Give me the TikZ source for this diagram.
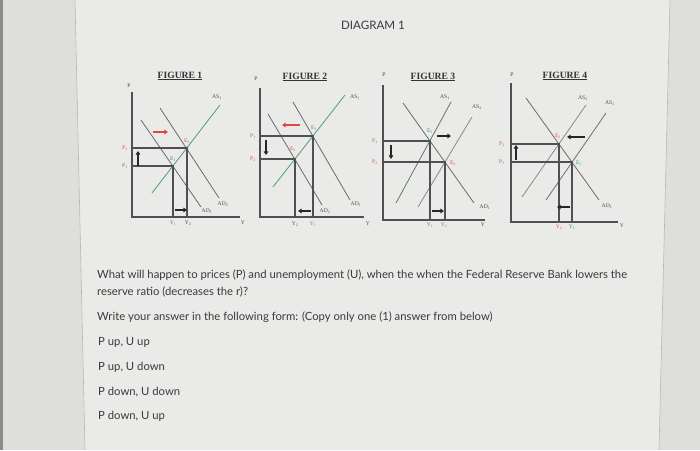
\documentclass[tikz,border=0pt]{standalone}
\usepackage{fontspec}
\setmainfont{Lato}
\newfontfamily\figfont{Liberation Serif}
\usetikzlibrary{arrows.meta}
\definecolor{bgout}{HTML}{DEDEDB}
\definecolor{bgpanel}{HTML}{EAEAE8}
\definecolor{edgec}{HTML}{B8B8B5}
\definecolor{txtc}{HTML}{3A3A3C}
\definecolor{axc}{HTML}{505052}
\definecolor{adc}{HTML}{6A6A6C}
\definecolor{asg}{HTML}{4F9C7C}
\definecolor{asgray}{HTML}{8A8C8A}
\definecolor{asdk}{HTML}{5E7A6C}
\definecolor{lred}{HTML}{D65A5A}
\definecolor{lgreen}{HTML}{3F9A6E}
\definecolor{arred}{HTML}{E04848}
\tikzset{
  axisline/.style={draw=axc, line width=1.2pt},
  guide/.style={draw=axc, line width=1.1pt},
  adline/.style={draw=adc, line width=0.8pt},
  asline/.style={draw=asg, line width=0.8pt},
  asline2/.style={draw=asgray, line width=0.8pt},
  asline3/.style={draw=asdk, line width=0.8pt},
  shiftarr/.style={draw=black!85, line width=1.3pt, -{Triangle[length=3.6pt,width=4.6pt]}},
  redarr/.style={draw=arred, line width=1.3pt, -{Triangle[length=3.6pt,width=4.6pt]}},
  lbl/.style={font=\figfont\fontsize{5.6}{6}\selectfont, text=black!70, inner sep=0pt},
  redlbl/.style={lbl, text=lred},
  grnlbl/.style={lbl, text=lgreen},
  figtitle/.style={font=\figfont\bfseries\fontsize{9.6}{10}\selectfont, text=black!80, inner sep=0.5pt},
  qtext/.style={font=\fontsize{11.3}{13}\selectfont, text=txtc, anchor=west, inner sep=0pt},
}
\begin{document}
\begin{tikzpicture}[x=1pt,y=-1pt]
\useasboundingbox (0,0) rectangle (700,450);
% background
\fill[bgout] (0,0) rectangle (700,450);
\fill[bgpanel] (75,0) -- (670,0) -- (659,450) -- (85,450) -- cycle;
\draw[edgec, line width=0.6pt] (75,0) -- (85,450);
\draw[edgec, line width=0.6pt] (670,0) -- (659,450);
\fill[black!45] (0,0) rectangle (2.5,450);

\node[font=\fontsize{11.6}{13}\selectfont, text=txtc] (dtitle) at (373,25) {DIAGRAM 1};

% ---------------- FIGURE 1 ----------------
\node[figtitle] (f1t) at (180,76) {\underline{FIGURE 1}};
\coordinate (f1o) at (132,217);
\coordinate (f1top) at (132,92);
\coordinate (f1right) at (240,217);
\draw[axisline] (f1top) -- (f1o) -- (f1right);
\node[lbl] (f1P) at (129,86) {P};
\node[lbl] (f1Y) at (243,223) {Y};
\coordinate (f1e1) at (173,166);
\coordinate (f1e2) at (187,148);
\draw[adline] (141,120) coordinate (f1ad1a) -- (201,207) coordinate (f1ad1b);
\draw[adline] (160,108) coordinate (f1ad2a) -- (219,198) coordinate (f1ad2b);
\draw[asline] (152,193) coordinate (f1asa) -- (220,105) coordinate (f1asb);
\draw[guide] (132,148) coordinate (f1p2) -- (f1e2) -- (187,217) coordinate (f1y2);
\draw[guide] (132,166) coordinate (f1p1) -- (f1e1) -- (173,217) coordinate (f1y1);
\node[lbl] (f1as1) at (217,97) {AS\textsubscript{1}};
\node[lbl] (f1adl1) at (207,211) {AD\textsubscript{1}};
\node[lbl] (f1adl2) at (223,204) {AD\textsubscript{2}};
\node[redlbl] (f1P2) at (125,148) {P\textsubscript{2}};
\node[grnlbl] (f1P1) at (125,166) {P\textsubscript{1}};
\node[grnlbl] (f1Y1) at (173,223) {Y\textsubscript{1}};
\node[lbl] (f1Y2) at (188,223) {Y\textsubscript{2}};
\node[redlbl] (f1E2) at (187,141) {E\textsubscript{2}};
\node[grnlbl] (f1E1) at (173,159) {E\textsubscript{1}};
\coordinate (f1ua) at (138,166); \coordinate (f1ub) at (138,151);
\draw[shiftarr] (f1ua) -- (f1ub);
\coordinate (f1ra) at (175,210); \coordinate (f1rb) at (187,210);
\draw[shiftarr] (f1ra) -- (f1rb);
\coordinate (f1qa) at (153,132); \coordinate (f1qb) at (168,132);
\draw[redarr] (f1qa) -- (f1qb);

% ---------------- FIGURE 2 ----------------
\node[figtitle] (f2t) at (305,77) {\underline{FIGURE 2}};
\coordinate (f2o) at (260,217);
\coordinate (f2top) at (260,88);
\coordinate (f2right) at (364,217);
\draw[axisline] (f2top) -- (f2o) -- (f2right);
\node[lbl] (f2P) at (256,79) {P};
\node[lbl] (f2Y) at (368,224) {Y};
\coordinate (f2e1) at (313,136);
\coordinate (f2e2) at (295,159);
\draw[adline] (293,102) coordinate (f2ad1a) -- (350,200) coordinate (f2ad1b);
\draw[adline] (268,114) coordinate (f2ad2a) -- (322,205) coordinate (f2ad2b);
\draw[asline] (273,187) coordinate (f2asa) -- (345,95) coordinate (f2asb);
\draw[guide] (260,136) coordinate (f2p1) -- (f2e1) -- (313,217) coordinate (f2y1);
\draw[guide] (260,159) coordinate (f2p2) -- (f2e2) -- (295,217) coordinate (f2y2);
\node[lbl] (f2as1) at (355,97) {AS\textsubscript{1}};
\node[lbl] (f2adl1) at (356,204) {AD\textsubscript{1}};
\node[lbl] (f2adl2) at (325,211) {AD\textsubscript{2}};
\node[grnlbl] (f2P1) at (253,136) {P\textsubscript{1}};
\node[redlbl] (f2P2) at (253,159) {P\textsubscript{2}};
\node[lbl] (f2Y2) at (295,224) {Y\textsubscript{2}};
\node[grnlbl] (f2Y1) at (313,224) {Y\textsubscript{1}};
\node[grnlbl] (f2E1) at (314,128) {E\textsubscript{1}};
\node[redlbl] (f2E2) at (293,149) {E\textsubscript{2}};
\coordinate (f2da) at (266,140); \coordinate (f2db) at (266,155);
\draw[shiftarr] (f2da) -- (f2db);
\coordinate (f2la) at (311,211); \coordinate (f2lb) at (298,211);
\draw[shiftarr] (f2la) -- (f2lb);
\coordinate (f2qa) at (300,125); \coordinate (f2qb) at (282,125);
\draw[redarr] (f2qa) -- (f2qb);

% ---------------- FIGURE 3 ----------------
\node[figtitle] (f3t) at (433,77) {\underline{FIGURE 3}};
\coordinate (f3o) at (383,220);
\coordinate (f3top) at (383,85);
\coordinate (f3right) at (485,220);
\draw[axisline] (f3top) -- (f3o) -- (f3right);
\node[lbl] (f3P) at (384,75) {P};
\node[lbl] (f3Y) at (483,225) {Y};
\coordinate (f3e1) at (430,141);
\coordinate (f3e2) at (445,162);
\draw[adline] (403,103) coordinate (f3ada) -- (474,203) coordinate (f3adb);
\draw[asline3] (396,203) coordinate (f3as1a) -- (451,102) coordinate (f3as1b);
\draw[asline2] (418,207) coordinate (f3as2a) -- (472,117) coordinate (f3as2b);
\draw[guide] (383,141) coordinate (f3p1) -- (f3e1) -- (430,220) coordinate (f3y1);
\draw[guide] (383,162) coordinate (f3p2) -- (f3e2) -- (445,220) coordinate (f3y2);
\node[lbl] (f3as1) at (445,97) {AS\textsubscript{1}};
\node[lbl] (f3as2) at (477,107) {AS\textsubscript{2}};
\node[lbl] (f3adl1) at (485,207) {AD\textsubscript{1}};
\node[grnlbl] (f3P1) at (375,141) {P\textsubscript{1}};
\node[redlbl] (f3P2) at (375,162) {P\textsubscript{2}};
\node[grnlbl] (f3Y1) at (430,225) {Y\textsubscript{1}};
\node[redlbl] (f3Y2) at (444,225) {Y\textsubscript{2}};
\node[grnlbl] (f3E1) at (430,131) {E\textsubscript{1}};
\node[redlbl] (f3E2) at (453,163) {E\textsubscript{2}};
\coordinate (f3ra) at (437,136); \coordinate (f3rb) at (451,136);
\draw[shiftarr] (f3ra) -- (f3rb);
\coordinate (f3da) at (391,145); \coordinate (f3db) at (391,159);
\draw[shiftarr] (f3da) -- (f3db);
\coordinate (f3ba) at (432,211); \coordinate (f3bb) at (444,211);
\draw[shiftarr] (f3ba) -- (f3bb);

% ---------------- FIGURE 4 ----------------
\node[figtitle] (f4t) at (565,76) {\underline{FIGURE 4}};
\coordinate (f4o) at (511,222);
\coordinate (f4top) at (511,83);
\coordinate (f4right) at (618,222);
\draw[axisline] (f4top) -- (f4o) -- (f4right);
\node[lbl] (f4P) at (512,75) {P};
\node[lbl] (f4Y) at (622,226) {Y};
\coordinate (f4e2) at (559,144);
\coordinate (f4e1) at (572,162);
\draw[adline] (526,98) coordinate (f4ada) -- (599,200) coordinate (f4adb);
\draw[asline3] (546,200) coordinate (f4as1a) -- (606,113) coordinate (f4as1b);
\draw[asline2] (522,197) coordinate (f4as2a) -- (586,105) coordinate (f4as2b);
\draw[guide] (511,144) coordinate (f4p2) -- (f4e2) -- (559,222) coordinate (f4y2);
\draw[guide] (511,162) coordinate (f4p1) -- (f4e1) -- (572,222) coordinate (f4y1);
\node[lbl] (f4as2) at (583,98) {AS\textsubscript{2}};
\node[lbl] (f4as1) at (610,103) {AS\textsubscript{1}};
\node[lbl] (f4adl1) at (607,206) {AD\textsubscript{1}};
\node[redlbl] (f4P2) at (502,144) {P\textsubscript{2}};
\node[grnlbl] (f4P1) at (502,162) {P\textsubscript{1}};
\node[redlbl] (f4Y2) at (559,227) {Y\textsubscript{2}};
\node[grnlbl] (f4Y1) at (572,227) {Y\textsubscript{1}};
\node[redlbl] (f4E2) at (558,136) {E\textsubscript{2}};
\node[grnlbl] (f4E1) at (579,163) {E\textsubscript{1}};
\coordinate (f4la) at (585,137); \coordinate (f4lb) at (567,137);
\draw[shiftarr] (f4la) -- (f4lb);
\coordinate (f4ua) at (516,160); \coordinate (f4ub) at (516,145);
\draw[shiftarr] (f4ua) -- (f4ub);
\coordinate (f4ba) at (570,207); \coordinate (f4bb) at (557,207);
\draw[shiftarr] (f4ba) -- (f4bb);

% ---------------- QUESTION ----------------
\node[qtext] (q1) at (97,275) {What will happen to prices (P) and unemployment (U), when the when the Federal Reserve Bank lowers the};
\node[qtext] (q2) at (97,292) {reserve ratio (decreases the r)?};
\node[qtext] (q3) at (97,317) {Write your answer in the following form: (Copy only one (1) answer from below)};
\node[qtext] (a1) at (98,342) {P up, U up};
\node[qtext] (a2) at (98,367) {P up, U down};
\node[qtext] (a3) at (98,392) {P down, U down};
\node[qtext] (a4) at (98,416) {P down, U up};
\end{tikzpicture}
\end{document}
